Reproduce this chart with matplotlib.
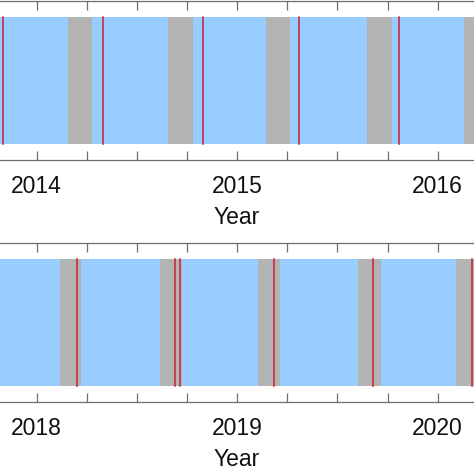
import matplotlib
matplotlib.use("Agg")
import matplotlib.pyplot as plt
from matplotlib.ticker import MultipleLocator, FuncFormatter

plt.rcParams['font.family'] = ['Liberation Sans', 'DejaVu Sans']

# ---- data (decimal years) ----
# Panel 1 (2014-2016)
blue_top_start = [2013.70, 2014.274, 2014.780, 2015.265, 2015.772]
blue_top_end   = [2014.155, 2014.655, 2015.142, 2015.646, 2016.131]
gray_top_start = [2014.155, 2014.655, 2015.142, 2015.646, 2016.131]
gray_top_end   = [2014.274, 2014.780, 2015.265, 2015.772, 2016.26]
red_top        = [2013.832, 2014.329, 2014.828, 2015.308, 2015.805]

# Panel 2 (2018-2020)
blue_bot_start = [2017.70, 2018.223, 2018.724, 2019.212, 2019.716]
blue_bot_end   = [2018.116, 2018.616, 2019.102, 2019.604, 2020.091]
gray_bot_start = [2018.116, 2018.616, 2019.102, 2019.604, 2020.091]
gray_bot_end   = [2018.223, 2018.724, 2019.212, 2019.716, 2020.26]
red_bot        = [2018.201, 2018.691, 2018.713, 2019.185, 2019.677, 2020.171]

xlim_top = (2013.817, 2016.181)
xlim_bot = (2017.817, 2020.181)

BLUE = '#99CCFF'
GRAY = '#B3B3B3'
RED = '#CF1F32'
SPINE = '#6E6E6E'

W, H = 474, 474
fig = plt.figure(figsize=(W / 100, H / 100), dpi=100)

def make_panel(rect, bs, be, gs, ge, reds, xlim):
    ax = fig.add_axes(rect)
    for s, e in zip(bs, be):
        ax.axvspan(s, e, ymin=0.1, ymax=0.9, color=BLUE, lw=0)
    for s, e in zip(gs, ge):
        ax.axvspan(s, e, ymin=0.1, ymax=0.9, color=GRAY, lw=0)
    for r in reds:
        ax.axvline(r, ymin=0.1, ymax=0.9, color=RED, lw=1.1)
    ax.set_xlim(*xlim)
    ax.set_ylim(0, 1)
    ax.set_yticks([])
    for side in ('left', 'right'):
        ax.spines[side].set_visible(False)
    for side in ('top', 'bottom'):
        ax.spines[side].set_color(SPINE)
        ax.spines[side].set_linewidth(0.9)
    ax.xaxis.set_major_locator(MultipleLocator(1.0))
    ax.xaxis.set_minor_locator(MultipleLocator(0.25))
    ax.xaxis.set_major_formatter(FuncFormatter(lambda v, p: f"{int(round(v))}"))
    ax.tick_params(axis='x', which='both', direction='in', top=True, bottom=True,
                   length=6.5, width=0.9, color=SPINE)
    ax.tick_params(axis='x', which='major', labelsize=16.5, pad=10.5, labelcolor='#111111')
    ax.set_xlabel('Year', fontsize=16.5, labelpad=6, color='#111111')
    return ax

h = 159 / H
make_panel([0, 1 - 160 / H, 1, h], blue_top_start, blue_top_end,
           gray_top_start, gray_top_end, red_top, xlim_top)
make_panel([0, 1 - 402 / H, 1, h], blue_bot_start, blue_bot_end,
           gray_bot_start, gray_bot_end, red_bot, xlim_bot)

fig.savefig('out.png', dpi=100)
